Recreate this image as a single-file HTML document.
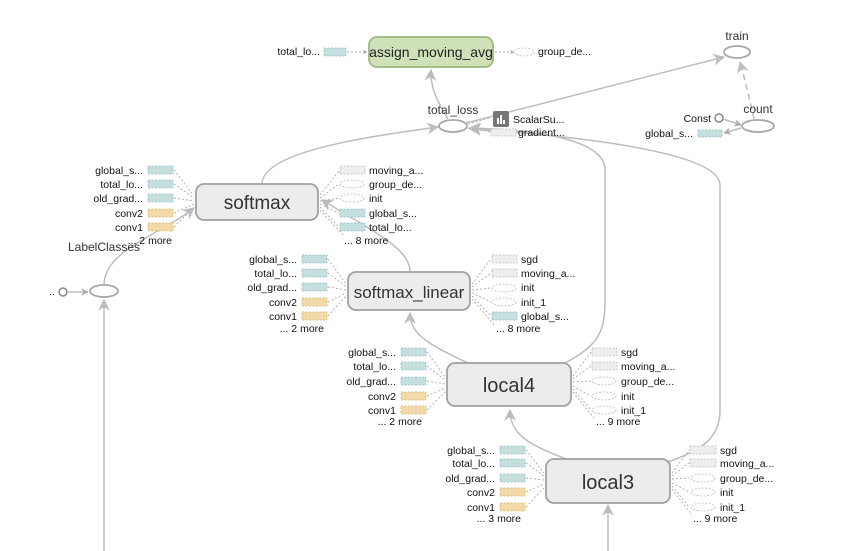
<!DOCTYPE html>
<html><head><meta charset="utf-8"><style>
html,body{margin:0;padding:0;background:#fff;}
svg{display:block;font-family:"Liberation Sans",sans-serif;}
.t{font-size:10.5px;fill:#111;}
.tr{font-size:10.5px;fill:#111;text-anchor:end;}
.n{fill:#ececec;stroke:#a0a0a0;stroke-width:1.8;}
.e{fill:none;stroke:#bdbdbd;stroke-width:1.5;}
.d{fill:none;stroke:#aaa;stroke-width:0.9;stroke-dasharray:2,2;}
.teal{fill:#c5dfdf;stroke:#8fbcbc;stroke-width:0.8;stroke-dasharray:2,1.5;}
.org{fill:#f2d9a9;stroke:#d4b46c;stroke-width:0.8;stroke-dasharray:2,1.5;}
.gry{fill:#eeeeee;stroke:#bbb;stroke-width:0.8;stroke-dasharray:2,1.5;}
.el{fill:#fff;stroke:#bbb;stroke-width:0.8;stroke-dasharray:2,1.5;}
.ov{fill:#fff;stroke:#a8a8a8;stroke-width:1.8;}
</style></head><body>
<svg width="851" height="551" viewBox="0 0 851 551" xmlns="http://www.w3.org/2000/svg">
<defs>
<marker id="a" viewBox="0 0 10 10" refX="9" refY="5" markerWidth="8" markerHeight="8" orient="auto"><path d="M0,0 L10,5 L0,10 L3,5z" fill="#bdbdbd"/></marker>
<marker id="s" viewBox="0 0 10 10" refX="9" refY="5" markerWidth="5" markerHeight="5" orient="auto"><path d="M0,0 L10,5 L0,10 L3,5z" fill="#aaa"/></marker>
</defs>

<path class="e" d="M262,184 C262,150 380,135 438,127" marker-end="url(#a)"/>
<path class="e" d="M448,119 C436,100 430,85 431,70" marker-end="url(#a)"/>
<path class="e" d="M466,123 L724,57" marker-end="url(#a)"/>
<path class="e" d="M565,363 C600,345 605,330 605,300 L605,170 C605,140 540,130 470,128" marker-end="url(#a)"/>
<path class="e" d="M668,462 C700,450 720,440 720,410 L720,185 C720,150 560,135 470,129" marker-end="url(#a)"/>
<path class="e" d="M410,272 C410,250 380,235 322,200" marker-end="url(#a)"/>
<path class="e" d="M468,363 C430,345 410,335 410,313" marker-end="url(#a)"/>
<path class="e" d="M566,459 C530,445 510,435 510,410" marker-end="url(#a)"/>
<path class="e" d="M104,285 C104,250 160,235 194,208" marker-end="url(#a)"/>
<path class="e" d="M104,551 L104,300" marker-end="url(#a)"/>
<path class="e" d="M608,551 L608,505" marker-end="url(#a)"/>
<path class="e" d="M754,119 C750,100 745,80 740,62" stroke-dasharray="6,4" marker-end="url(#a)"/>

<rect x="369" y="37" width="124" height="30" rx="8" fill="#cfe1b9" stroke="#9cb87d" stroke-width="1.8"/>
<text x="431" y="57" font-size="14" text-anchor="middle" fill="#222">assign_moving_avg</text>
<text class="tr" x="320" y="55">total_lo...</text>
<rect class="teal" x="324" y="48" width="22" height="8"/>
<path class="d" d="M347,52 L367,52" marker-end="url(#s)"/>
<path class="d" d="M495,52 L514,52" marker-end="url(#s)"/>
<ellipse class="el" cx="524" cy="52" rx="10" ry="4"/>
<text class="t" x="538" y="55">group_de...</text>

<text x="453" y="114" font-size="12" text-anchor="middle" fill="#333">total_loss</text>
<ellipse class="ov" cx="453" cy="126" rx="14" ry="6"/>
<rect x="493" y="111" width="16" height="16" rx="2" fill="#777"/>
<rect x="497" y="118" width="2" height="6" fill="#fff"/><rect x="500" y="115" width="2" height="9" fill="#fff"/><rect x="503" y="120" width="2" height="4" fill="#fff"/>
<text class="t" x="513" y="123">ScalarSu...</text>
<rect class="gry" x="491" y="129" width="25" height="7"/>
<text class="t" x="518" y="136">gradient...</text>
<path class="d" d="M468,124 L490,118"/><path class="d" d="M468,128 L490,132"/>

<text x="737" y="40" font-size="12" text-anchor="middle" fill="#333">train</text>
<ellipse class="ov" cx="737" cy="52" rx="13" ry="6"/>
<text x="758" y="113" font-size="12" text-anchor="middle" fill="#333">count</text>
<ellipse class="ov" cx="758" cy="126" rx="16" ry="6"/>
<text class="tr" x="711" y="122">Const</text>
<circle cx="719" cy="118" r="4" fill="#fff" stroke="#888" stroke-width="1.5"/>
<path class="e" stroke-width="1" d="M723,119 L741,125" marker-end="url(#s)"/>
<text class="tr" x="693" y="137">global_s...</text>
<rect class="teal" x="698" y="130" width="24" height="7"/>
<path class="e" stroke-width="1" d="M741,128 L724,133" marker-end="url(#s)"/>

<rect class="n" x="196" y="184" width="122" height="36" rx="8"/>
<text x="257" y="209" font-size="19" text-anchor="middle" fill="#333">softmax</text>
<text class="tr" x="143" y="174">global_s...</text><rect class="teal" x="148" y="166" width="25" height="8"/>
<text class="tr" x="143" y="188">total_lo...</text><rect class="teal" x="148" y="180" width="25" height="8"/>
<text class="tr" x="143" y="202">old_grad...</text><rect class="teal" x="148" y="194" width="25" height="8"/>
<text class="tr" x="143" y="217">conv2</text><rect class="org" x="148" y="209" width="25" height="8"/>
<text class="tr" x="143" y="231">conv1</text><rect class="org" x="148" y="223" width="25" height="8"/>
<text class="tr" x="172" y="244">... 2 more</text>
<path class="d" d="M174,170 L194,196 M174,184 L194,198 M174,198 L194,201 M174,213 L194,204 M174,227 L194,207"/>
<rect class="gry" x="340" y="166" width="25" height="8"/><text class="t" x="369" y="174">moving_a...</text>
<ellipse class="el" cx="352" cy="184" rx="12" ry="4"/><text class="t" x="369" y="188">group_de...</text>
<ellipse class="el" cx="352" cy="198" rx="12" ry="4"/><text class="t" x="369" y="202">init</text>
<rect class="teal" x="340" y="209" width="25" height="8"/><text class="t" x="369" y="217">global_s...</text>
<rect class="teal" x="340" y="223" width="25" height="8"/><text class="t" x="369" y="231">total_lo...</text>
<text class="t" x="344" y="244">... 8 more</text>
<path class="d" d="M320,195 L339,171 M320,198 L339,184 M320,201 L339,198 M320,204 L339,213 M320,207 L339,227 M320,210 L344,236"/>

<text x="104" y="251" font-size="12" text-anchor="middle" fill="#333">LabelClasses</text>
<ellipse class="ov" cx="104" cy="291" rx="14" ry="6"/>
<text class="t" x="49" y="295">..</text>
<circle cx="63" cy="292" r="4" fill="#fff" stroke="#888" stroke-width="1.5"/>
<path class="e" stroke-width="1" d="M67,292 L88,292" marker-end="url(#s)"/>

<rect class="n" x="348" y="272" width="122" height="38" rx="8"/>
<text x="409" y="298" font-size="17" text-anchor="middle" fill="#333">softmax_linear</text>
<text class="tr" x="297" y="263">global_s...</text><rect class="teal" x="302" y="255" width="25" height="8"/>
<text class="tr" x="297" y="277">total_lo...</text><rect class="teal" x="302" y="269" width="25" height="8"/>
<text class="tr" x="297" y="291">old_grad...</text><rect class="teal" x="302" y="283" width="25" height="8"/>
<text class="tr" x="297" y="306">conv2</text><rect class="org" x="302" y="298" width="25" height="8"/>
<text class="tr" x="297" y="320">conv1</text><rect class="org" x="302" y="312" width="25" height="8"/>
<text class="tr" x="324" y="332">... 2 more</text>
<path class="d" d="M328,259 L346,284 M328,273 L346,287 M328,287 L346,290 M328,302 L346,293 M328,316 L346,296"/>
<rect class="gry" x="492" y="255" width="25" height="8"/><text class="t" x="521" y="263">sgd</text>
<rect class="gry" x="492" y="269" width="25" height="8"/><text class="t" x="521" y="277">moving_a...</text>
<ellipse class="el" cx="504" cy="288" rx="12" ry="4"/><text class="t" x="521" y="291">init</text>
<ellipse class="el" cx="504" cy="302" rx="12" ry="4"/><text class="t" x="521" y="306">init_1</text>
<rect class="teal" x="492" y="312" width="25" height="8"/><text class="t" x="521" y="320">global_s...</text>
<text class="t" x="496" y="332">... 8 more</text>
<path class="d" d="M472,284 L491,259 M472,287 L491,273 M472,290 L491,288 M472,293 L491,302 M472,296 L491,316 M472,299 L494,325"/>

<rect class="n" x="447" y="363" width="124" height="43" rx="8"/>
<text x="509" y="392" font-size="20" text-anchor="middle" fill="#333">local4</text>
<text class="tr" x="396" y="356">global_s...</text><rect class="teal" x="401" y="348" width="25" height="8"/>
<text class="tr" x="396" y="370">total_lo...</text><rect class="teal" x="401" y="362" width="25" height="8"/>
<text class="tr" x="396" y="385">old_grad...</text><rect class="teal" x="401" y="377" width="25" height="8"/>
<text class="tr" x="396" y="400">conv2</text><rect class="org" x="401" y="392" width="25" height="8"/>
<text class="tr" x="396" y="414">conv1</text><rect class="org" x="401" y="406" width="25" height="8"/>
<text class="tr" x="422" y="425">... 2 more</text>
<path class="d" d="M427,352 L445,377 M427,366 L445,380 M427,381 L445,384 M427,396 L445,388 M427,410 L445,392"/>
<rect class="gry" x="592" y="348" width="25" height="8"/><text class="t" x="621" y="356">sgd</text>
<rect class="gry" x="592" y="362" width="25" height="8"/><text class="t" x="621" y="370">moving_a...</text>
<ellipse class="el" cx="604" cy="381" rx="12" ry="4"/><text class="t" x="621" y="385">group_de...</text>
<ellipse class="el" cx="604" cy="396" rx="12" ry="4"/><text class="t" x="621" y="400">init</text>
<ellipse class="el" cx="604" cy="410" rx="12" ry="4"/><text class="t" x="621" y="414">init_1</text>
<text class="t" x="596" y="425">... 9 more</text>
<path class="d" d="M573,376 L591,352 M573,379 L591,366 M573,382 L591,381 M573,386 L591,396 M573,389 L591,410 M573,392 L594,418"/>

<rect class="n" x="546" y="459" width="124" height="44" rx="8"/>
<text x="608" y="489" font-size="20" text-anchor="middle" fill="#333">local3</text>
<text class="tr" x="495" y="454">global_s...</text><rect class="teal" x="500" y="446" width="25" height="8"/>
<text class="tr" x="495" y="467">total_lo...</text><rect class="teal" x="500" y="459" width="25" height="8"/>
<text class="tr" x="495" y="482">old_grad...</text><rect class="teal" x="500" y="474" width="25" height="8"/>
<text class="tr" x="495" y="496">conv2</text><rect class="org" x="500" y="488" width="25" height="8"/>
<text class="tr" x="495" y="511">conv1</text><rect class="org" x="500" y="503" width="25" height="8"/>
<text class="tr" x="521" y="522">... 3 more</text>
<path class="d" d="M526,450 L544,473 M526,463 L544,476 M526,478 L544,480 M526,492 L544,484 M526,507 L544,488"/>
<rect class="gry" x="690" y="446" width="26" height="8"/><text class="t" x="720" y="454">sgd</text>
<rect class="gry" x="690" y="459" width="26" height="8"/><text class="t" x="720" y="467">moving_a...</text>
<ellipse class="el" cx="703" cy="478" rx="12" ry="4"/><text class="t" x="720" y="482">group_de...</text>
<ellipse class="el" cx="703" cy="492" rx="12" ry="4"/><text class="t" x="720" y="496">init</text>
<ellipse class="el" cx="703" cy="507" rx="12" ry="4"/><text class="t" x="720" y="511">init_1</text>
<text class="t" x="693" y="522">... 9 more</text>
<path class="d" d="M672,473 L689,450 M672,476 L689,463 M672,479 L689,478 M672,483 L689,492 M672,486 L689,507 M672,489 L692,515"/>
</svg>
</body></html>
